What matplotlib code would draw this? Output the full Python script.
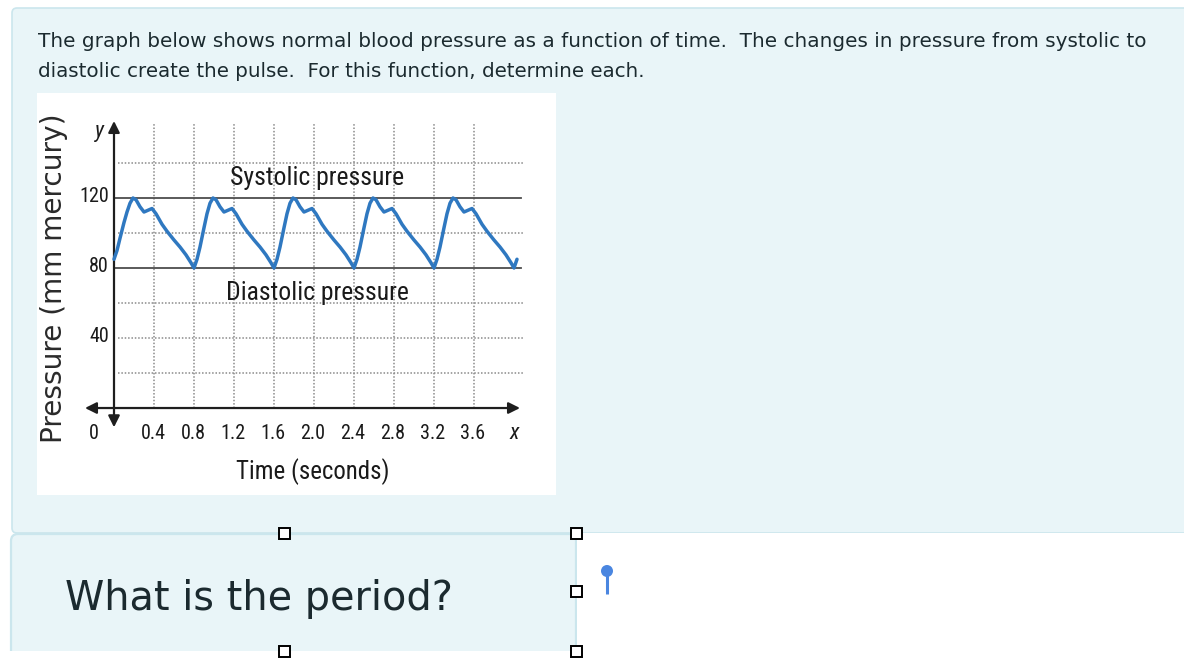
import matplotlib
matplotlib.use('Agg')
import matplotlib.pyplot as plt
from matplotlib.patches import FancyBboxPatch, Rectangle, Circle

# blood pressure curve (time in s, pressure in mm Hg)
time_s = [0.00, 0.03, 0.06, 0.10, 0.13, 0.16, 0.19, 0.22, 0.26, 0.30, 0.34, 0.38,
          0.42, 0.48, 0.53, 0.60, 0.66, 0.72, 0.77, 0.80,
          0.83, 0.86, 0.90, 0.93, 0.96, 0.99, 1.02, 1.06, 1.10, 1.14, 1.18,
          1.22, 1.28, 1.33, 1.40, 1.46, 1.52, 1.57, 1.60,
          1.63, 1.66, 1.70, 1.73, 1.76, 1.79, 1.82, 1.86, 1.90, 1.94, 1.98,
          2.02, 2.08, 2.13, 2.20, 2.26, 2.32, 2.37, 2.40,
          2.43, 2.46, 2.50, 2.53, 2.56, 2.59, 2.62, 2.66, 2.70, 2.74, 2.78,
          2.82, 2.88, 2.93, 3.00, 3.06, 3.12, 3.17, 3.20,
          3.23, 3.26, 3.30, 3.33, 3.36, 3.39, 3.42, 3.46, 3.50, 3.54, 3.58,
          3.62, 3.68, 3.73, 3.80, 3.86, 3.92, 3.97, 4.00, 4.03]
pressure_mm = [85, 90, 97, 106, 112, 117, 120, 119, 115, 112, 113, 114,
               111, 105, 101, 96, 92, 87.5, 83, 80,
               85, 92, 103, 111, 117, 120, 119, 115, 112, 113, 114,
               111, 105, 101, 96, 92, 87.5, 83, 80,
               85, 92, 103, 111, 117, 120, 119, 115, 112, 113, 114,
               111, 105, 101, 96, 92, 87.5, 83, 80,
               85, 92, 103, 111, 117, 120, 119, 115, 112, 113, 114,
               111, 105, 101, 96, 92, 87.5, 83, 80,
               85, 92, 103, 111, 117, 120, 119, 115, 112, 113, 114,
               111, 105, 101, 96, 92, 87.5, 83, 80, 85]

systolic = 120
diastolic = 80
x_ticks = [0.4, 0.8, 1.2, 1.6, 2.0, 2.4, 2.8, 3.2, 3.6]
x_tick_labels = ['0.4', '0.8', '1.2', '1.6', '2.0', '2.4', '2.8', '3.2', '3.6']
y_ticks = [40, 80, 120]
y_grid = [20, 40, 60, 100, 140]

header_1 = "The graph below shows normal blood pressure as a function of time.  The changes in pressure from systolic to"
header_2 = "diastolic create the pulse.  For this function, determine each."
question = "What is the period?"

PAGE_TXT = '#1b2a2f'
PANEL = '#e9f5f8'
EDGE = '#cbe6ed'
NARROW = ['Roboto Condensed', 'Liberation Sans Narrow', 'Roboto', 'DejaVu Sans']

W, H = 1184, 672
fig = plt.figure(figsize=(W / 100, H / 100), dpi=100)
fig.patch.set_facecolor('white')

# page layer in pixel coords
bg = fig.add_axes([0, 0, 1, 1])
bg.set_xlim(0, W)
bg.set_ylim(H, 0)
bg.axis('off')

bg.add_patch(FancyBboxPatch((12, 8), 1190, 525, boxstyle='round,pad=0,rounding_size=5',
                            fc=PANEL, ec=EDGE, lw=1.2))
bg.add_patch(FancyBboxPatch((11, 534), 565, 140, boxstyle='round,pad=0,rounding_size=7',
                            fc=PANEL, ec=EDGE, lw=1.6))
bg.add_patch(Rectangle((0, 651), 620, 30, fc='white', ec='none', zorder=3))
bg.add_patch(Rectangle((577, 533), 620, 150, fc='white', ec='none', zorder=3))

renderer = fig.canvas.get_renderer()


def fit_text(ax, x, y, s, width_px, **kw):
    t = ax.text(x, y, s, fontsize=10, **kw)
    w = t.get_window_extent(renderer).width
    t.set_fontsize(10 * width_px / w)
    return t


fit_text(bg, 38, 46.7, header_1, 1103, color=PAGE_TXT, va='baseline', ha='left')
fit_text(bg, 38, 76.7, header_2, 607, color=PAGE_TXT, va='baseline', ha='left')
fit_text(bg, 65, 610, question, 387, color=PAGE_TXT, va='baseline', ha='left', zorder=4)

# selection handles
for hx, hy in [(284, 533), (576, 533), (576, 591), (284, 651), (576, 651)]:
    bg.add_patch(Rectangle((hx - 5.5, hy - 5.5), 11, 11, fc='white', ec='black', lw=1.4, zorder=5))

# pin
bg.plot([607, 607], [572, 594], color='#4a86e0', lw=2.2, zorder=5, solid_capstyle='butt')
bg.add_patch(Circle((607, 571), 6, fc='#4a86e0', ec='none', zorder=6))

# chart image area
ax = fig.add_axes([37 / W, 1 - 495 / H, (556 - 37) / W, (495 - 93) / H])
ax.set_xlim(-0.77, 4.42)
ax.set_ylim(-49.7, 180)
ax.set_facecolor('white')
for sp in ax.spines.values():
    sp.set_visible(False)
ax.set_xticks([])
ax.set_yticks([])

grid_kw = dict(color='#8a8a8a', lw=1.1, ls=(0, (1, 1.2)), zorder=1)
for xv in x_ticks:
    ax.plot([xv, xv], [0, 163], **grid_kw)
for yv in y_grid:
    ax.plot([0.04, 4.1], [yv, yv], **grid_kw)

ax.plot([0, 4.07], [systolic, systolic], color='#4d4d4d', lw=1.3, zorder=2)
ax.plot([0, 4.07], [diastolic, diastolic], color='#4d4d4d', lw=1.3, zorder=2)

ax.plot(time_s, pressure_mm, color='#2f78c0', lw=2.5, zorder=4,
        solid_joinstyle='round', solid_capstyle='round')

arrow = dict(arrowstyle='<|-|>', color='#1e1e1e', lw=1.6, mutation_scale=17,
             shrinkA=0, shrinkB=0)
ax.annotate('', xy=(0, 164), xytext=(0, -11), arrowprops=arrow, zorder=3)
ax.annotate('', xy=(4.06, 0), xytext=(-0.29, 0), arrowprops=arrow, zorder=3)

lab = dict(family=NARROW, color='#1a1a1a')
for yv in y_ticks:
    ax.text(-0.05, yv + 1, str(yv), ha='right', va='center', fontsize=14.5, **lab)
ax.text(-0.2, -14.3, '0', ha='center', va='center', fontsize=14.5, **lab)
for xv, s in zip(x_ticks, x_tick_labels):
    ax.text(xv - 0.01, -14.3, s, ha='center', va='center', fontsize=14.5, **lab)
ax.text(4.0, -14.3, 'x', ha='center', va='center', fontsize=16, style='italic', **lab)
ax.text(-0.15, 158, 'y', ha='center', va='center', fontsize=16, style='italic', **lab)
fit_text(ax, 1.99, -36.6, 'Time (seconds)', 152, ha='center', va='center', **lab)
fit_text(ax, 2.035, 131.4, 'Systolic pressure', 173, ha='center', va='center', **lab)
fit_text(ax, 2.03, 65.7, 'Diastolic pressure', 182, ha='center', va='center', **lab)

t = ax.text(-0.6, 74, 'Pressure (mm mercury)', rotation=90, ha='center', va='center',
            fontsize=10, color='#2a2a2a')
h = t.get_window_extent(renderer).height
t.set_fontsize(10 * 330 / h)

fig.savefig('out.png', dpi=100, facecolor='white')
